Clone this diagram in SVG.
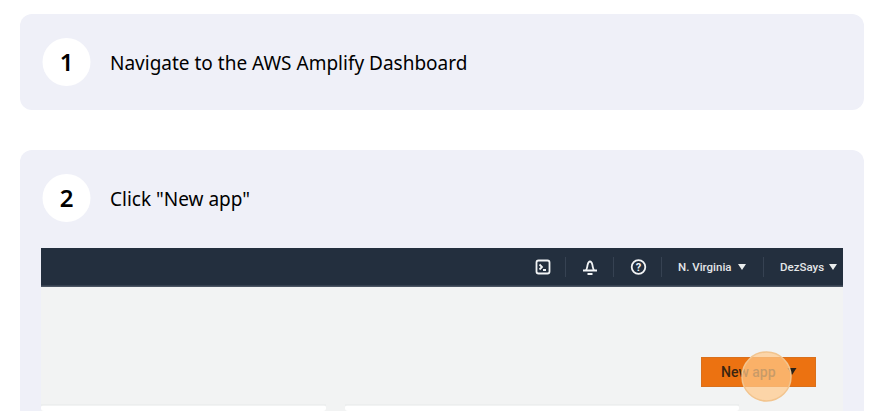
<svg xmlns="http://www.w3.org/2000/svg" width="884" height="411" viewBox="0 0 884 411">
<style>
.card{fill:#eff0f8}
.badge{fill:#fff}
.num{font:600 24px "Noto Sans",sans-serif;fill:#000;text-anchor:middle}
.step{font:400 19px "Noto Sans",sans-serif;fill:#000}
.nav{font:500 11.500px "Roboto",sans-serif;fill:#e3e6e8}
.sep{stroke:#364252;stroke-width:1}
.tri{fill:#eaeded}
.ico{fill:none;stroke:#f2f4f5;stroke-width:1.800}
</style>
<rect width="884" height="411" fill="#fff"/>
<g id="step1">
<rect class="card" x="20" y="14" width="844" height="96" rx="12"/>
<circle class="badge" cx="66.500" cy="62" r="24"/>
<text class="num" x="66.500" y="70.500">1</text>
<text class="step" x="110" y="69.500">Navigate to the AWS Amplify Dashboard</text>
</g>
<g id="step2">
<rect class="card" x="20" y="150" width="844" height="261" rx="12"/>
<path class="card" d="M20 400h844v11H20z"/>
<circle class="badge" cx="66.500" cy="198" r="24"/>
<text class="num" x="66.500" y="206.500">2</text>
<text class="step" x="110" y="205.500">Click "New app"</text>
</g>
<g id="screenshot">
<rect x="41" y="248" width="802" height="163" fill="#f2f3f3"/>
<rect x="41" y="248" width="802" height="38" fill="#232f3e"/>
<rect x="41" y="285.500" width="802" height="1.500" fill="#4b5563"/>
<rect x="41" y="405" width="285" height="6" rx="3" fill="#fff"/>
<rect x="345" y="405" width="394" height="6" rx="3" fill="#fff"/>
<path d="M41 405h285M345 405h394" stroke="#e6e8e8" fill="none"/>
</g>
<g id="navbar">
<rect class="ico" x="536.500" y="260.500" width="13" height="13" rx="2"/>
<path class="ico" d="M539.500 264.500l2.500 2.500-2.500 2.500M543 270h3" stroke-width="1.200"/>
<path class="ico" d="M585.500 270.500c2-1.500 1.500-3.500 2.200-6 .5-1.800 1.300-3 2.300-3s1.800 1.200 2.300 3c.7 2.500.2 4.500 2.200 6zM583 270.500h14M587.500 274h5"/>
<circle class="ico" cx="638.500" cy="267" r="6.800"/>
<text x="638.500" y="270.800" font-family="Roboto,sans-serif" font-size="11" font-weight="700" fill="#f2f4f5" text-anchor="middle">?</text>
<path class="sep" d="M565.500 257v20M613.500 257v20M661.500 257v20M763.500 257v20"/>
<text class="nav" x="678" y="271">N. Virginia</text>
<path class="tri" d="M738 264h8l-4 6z"/>
<text class="nav" x="780" y="271">DezSays</text>
<path class="tri" d="M829 264h8l-4 6z"/>
</g>
<g id="new-app">
<rect x="701.500" y="357.500" width="114" height="29" fill="#ec7211" stroke="#d9701c" stroke-width="1"/>
<text x="721" y="377" font-family="Roboto,sans-serif" font-size="14" font-weight="500" fill="#3a2510">New app</text>
<path d="M787.500 368h9l-4.500 7z" fill="#2a2118"/>
<circle cx="766.500" cy="376.500" r="24.500" fill="#ffc98b" fill-opacity=".72" stroke="#f2c48e" stroke-width="1.500"/>
</g>
</svg>
